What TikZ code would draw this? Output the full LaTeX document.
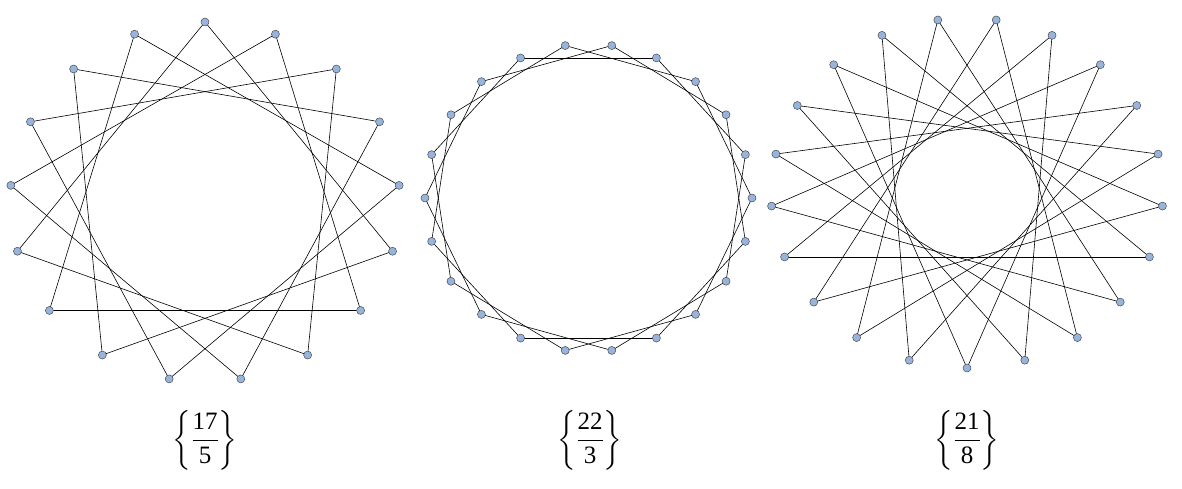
\documentclass[tikz,border=0pt]{standalone}
\usepackage{amsmath}
\usepackage{fontspec}
\setmainfont{Liberation Serif}
\definecolor{dotc}{RGB}{150,180,220}
\begin{document}
\begin{tikzpicture}[x=1pt,y=-1pt,
  vtx/.style={circle,draw=black!70,fill=dotc,line width=0.5pt,inner sep=0pt,minimum size=8pt},
  edge/.style={black,line width=0.6pt},
  lbl/.style={font=\fontsize{25}{30}\selectfont}]
\useasboundingbox (0,0) rectangle (1182,489);
% star 1: {17/5}
\foreach \i in {0,...,16} \coordinate (a\i) at ({205+195*sin(360*\i/17)},{202-180*cos(360*\i/17)});
\foreach \i in {0,...,16}{\pgfmathtruncatemacro\j{mod(\i+5,17)}\draw[edge] (a\i)--(a\j);}
\foreach \i in {0,...,16} \node[vtx] (A\i) at (a\i) {};
% star 2: {22/3}
\foreach \i in {0,...,21} \coordinate (b\i) at ({588.5+163.5*sin(360*(\i+0.5)/22)},{198-154*cos(360*(\i+0.5)/22)});
\foreach \i in {0,...,21}{\pgfmathtruncatemacro\j{mod(\i+3,22)}\draw[edge] (b\i)--(b\j);}
\foreach \i in {0,...,21} \node[vtx] (B\i) at (b\i) {};
% star 3: {21/8}
\foreach \i in {0,...,20} \coordinate (c\i) at ({967+196*sin(360*\i/21)},{193+175*cos(360*\i/21)});
\foreach \i in {0,...,20}{\pgfmathtruncatemacro\j{mod(\i+8,21)}\draw[edge] (c\i)--(c\j);}
\foreach \i in {0,...,20} \node[vtx] (C\i) at (c\i) {};
% labels
\node[lbl] (L1) at (205,440) {$\left\{\dfrac{\text{17}}{\text{5}}\right\}$};
\node[lbl] (L2) at (590,440) {$\left\{\dfrac{\text{22}}{\text{3}}\right\}$};
\node[lbl] (L3) at (967,440) {$\left\{\dfrac{\text{21}}{\text{8}}\right\}$};
\end{tikzpicture}
\end{document}
